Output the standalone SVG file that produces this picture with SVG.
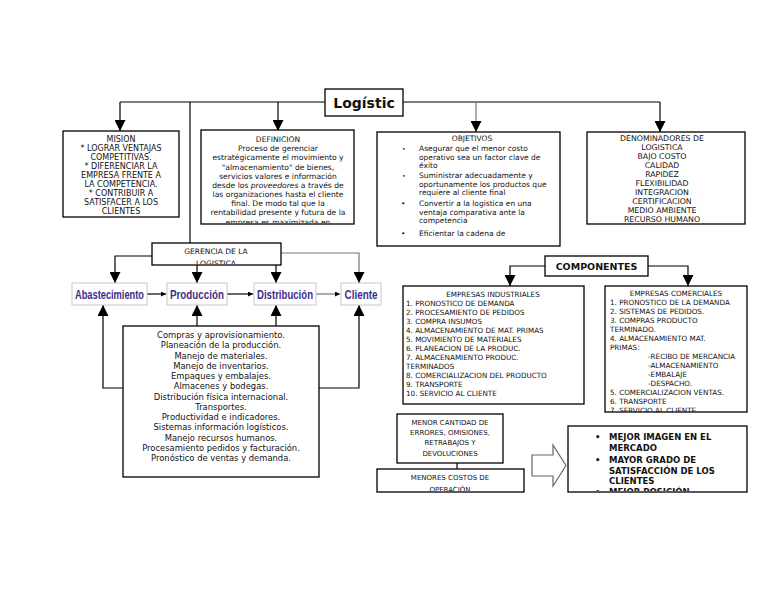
<svg xmlns="http://www.w3.org/2000/svg" width="768" height="594" viewBox="0 0 768 594">
<style>
.bx{fill:#fff;stroke:#000;stroke-width:1.3}
.rb{fill:#fff;stroke:#c8c8d0;stroke-width:1}
.ln{fill:none;stroke:#000;stroke-width:1.2}
.lg{fill:none;stroke:#777;stroke-width:1.2}
.t{font-family:"DejaVu Sans","Liberation Sans",sans-serif;fill:#111}
.c{text-anchor:middle}
.b{font-weight:bold}
.pu{font-family:"Liberation Sans Narrow","Liberation Sans",sans-serif;font-weight:bold;font-size:12.5px;fill:#3d2d8c;text-anchor:middle}
</style>
<defs>
<marker id="ah" viewBox="0 0 10 10" refX="10" refY="5" markerWidth="11" markerHeight="11" markerUnits="userSpaceOnUse" orient="auto"><path d="M0,0 L10,5 L0,10 z" fill="#000"/></marker>
<marker id="sa" viewBox="0 0 10 10" refX="10" refY="5" markerWidth="5" markerHeight="5" markerUnits="userSpaceOnUse" orient="auto"><path d="M0,0 L10,5 L0,10 z" fill="#000"/></marker>
<clipPath id="cDef"><rect x="201" y="130" width="153" height="93"/></clipPath>
<clipPath id="cDen"><rect x="587" y="132" width="158" height="91"/></clipPath>
<clipPath id="cGer"><rect x="152" y="243" width="129" height="21"/></clipPath>
<clipPath id="cCom"><rect x="605" y="286" width="142" height="126"/></clipPath>
<clipPath id="cMen"><rect x="377" y="469" width="147" height="22"/></clipPath>
<clipPath id="cMej"><rect x="568" y="426" width="179" height="65"/></clipPath>
</defs>

<g id="connectors">
<path class="ln" d="M120,102 H325 M403,102 H660"/>
<path class="ln" d="M120,102 V131" marker-end="url(#ah)"/>
<path class="ln" d="M278,102 V131" marker-end="url(#ah)"/>
<path class="lg" d="M476,102 V132" marker-end="url(#ah)"/>
<path class="ln" d="M660,102 V132" marker-end="url(#ah)"/>
<path class="ln" d="M190,102 V243"/>
<path class="ln" d="M152,256 H115 V283" marker-end="url(#ah)"/>
<path class="ln" d="M197,265 V283" marker-end="url(#ah)"/>
<path class="ln" d="M276,265 V283" marker-end="url(#ah)"/>
<path class="lg" d="M281,253 H359 V283" marker-end="url(#ah)"/>
<path class="ln" d="M147,294 H166" marker-end="url(#sa)"/>
<path class="ln" d="M227,294 H253" marker-end="url(#sa)"/>
<path class="lg" d="M316,294 H340" marker-end="url(#sa)"/>
<path class="ln" d="M197,326 V305" marker-end="url(#ah)"/>
<path class="ln" d="M276,326 V305" marker-end="url(#ah)"/>
<path class="ln" d="M123,388 H103 V305" marker-end="url(#ah)"/>
<path class="ln" d="M319,388 H359 V305" marker-end="url(#ah)"/>
<path class="ln" d="M545,266 H510 V286" marker-end="url(#ah)"/>
<path class="ln" d="M648,266 H688 V286" marker-end="url(#ah)"/>
<path class="ln" d="M457,463 V469"/>
<path d="M532,455 H553 V445 L566,465.5 L553,486 V476 H532 Z" fill="#fff" stroke="#666" stroke-width="1.2"/>
</g>

<g id="logistic">
<rect class="bx" x="325" y="89" width="78" height="27"/>
<text class="t c b" x="364" y="108" font-size="14">Logístic</text>
</g>

<g id="mision">
<rect class="bx" x="63" y="131" width="116" height="86"/>
<g class="t c" font-size="8">
<text x="121" y="142">MISION</text>
<text x="121" y="151">* LOGRAR VENTAJAS</text>
<text x="121" y="160">COMPETITIVAS.</text>
<text x="121" y="169">* DIFERENCIAR LA</text>
<text x="121" y="178">EMPRESA FRENTE A</text>
<text x="121" y="187">LA COMPETENCIA.</text>
<text x="121" y="196">* CONTRIBUIR A</text>
<text x="121" y="205">SATISFACER A LOS</text>
<text x="121" y="214">CLIENTES</text>
</g>
</g>

<g id="definicion">
<rect class="bx" x="201" y="130" width="153" height="94"/>
<g class="t c" font-size="7.6" clip-path="url(#cDef)">
<text x="278" y="142">DEFINICION</text>
<text x="278" y="151">Proceso de gerenciar</text>
<text x="278" y="160">estratégicamente el movimiento y</text>
<text x="278" y="169.5">"almacenamiento" de bienes,</text>
<text x="278" y="179">servicios  valores e información</text>
<text x="278" y="188">desde los <tspan font-style="italic">proveedores</tspan> a través de</text>
<text x="278" y="197">las organizaciones  hasta el cliente</text>
<text x="278" y="206">final. De modo tal que la</text>
<text x="278" y="215">rentabilidad presente y futura de la</text>
<text x="278" y="225">empresa es maximizada en</text>
</g>
</g>

<g id="objetivos">
<rect class="bx" x="377" y="132" width="183" height="114"/>
<g class="t" font-size="7.5">
<text class="c" x="472" y="141">OBJETIVOS</text>
<text x="402" y="151" font-size="6">•</text>
<text x="419" y="151">Asegurar que el  menor costo</text>
<text x="419" y="159.5">operativo sea un factor clave de</text>
<text x="419" y="168">éxito</text>
<text x="402" y="178" font-size="6">•</text>
<text x="419" y="178">Suministrar adecuadamente y</text>
<text x="419" y="186.5">oportunamente los productos  que</text>
<text x="419" y="195">requiere al cliente final</text>
<text x="401" y="206">•</text>
<text x="419" y="206">Convertir a la logistica en una</text>
<text x="419" y="214.5">ventaja comparativa  ante la</text>
<text x="419" y="223">competencia</text>
<text x="401" y="236">•</text>
<text x="419" y="236">Eficientar la cadena de</text>
</g>
</g>

<g id="denominadores">
<rect class="bx" x="587" y="132" width="158" height="92"/>
<g class="t c" font-size="7.8" clip-path="url(#cDen)">
<text x="662" y="141">DENOMINADORES DE</text>
<text x="662" y="150">LOGISTICA</text>
<text x="662" y="159">BAJO  COSTO</text>
<text x="662" y="168">CALIDAD</text>
<text x="662" y="177">RAPIDEZ</text>
<text x="662" y="186">FLEXIBILIDAD</text>
<text x="662" y="195">INTEGRACION</text>
<text x="662" y="204">CERTIFICACION</text>
<text x="662" y="213">MEDIO AMBIENTE</text>
<text x="662" y="222">RECURSO HUMANO</text>
</g>
</g>

<g id="gerencia">
<rect class="bx" x="152" y="243" width="129" height="22"/>
<g class="t c" font-size="7.5" clip-path="url(#cGer)">
<text x="216" y="254">GERENCIA DE LA</text>
<text x="216" y="266">LOGISTICA</text>
</g>
</g>

<g id="abastecimiento">
<rect class="rb" x="72" y="283" width="75" height="22"/>
<text class="pu" x="109.5" y="298.5" textLength="69" lengthAdjust="spacingAndGlyphs">Abastecimiento</text>
</g>
<g id="produccion">
<rect class="rb" x="167" y="283" width="60" height="22"/>
<text class="pu" x="197" y="298.5" textLength="54" lengthAdjust="spacingAndGlyphs">Producción</text>
</g>
<g id="distribucion">
<rect class="rb" x="254" y="283" width="62" height="22"/>
<text class="pu" x="285" y="298.5" textLength="56" lengthAdjust="spacingAndGlyphs">Distribución</text>
</g>
<g id="cliente">
<rect class="rb" x="341" y="283" width="40" height="22"/>
<text class="pu" x="361" y="298.5" textLength="33" lengthAdjust="spacingAndGlyphs">Cliente</text>
</g>

<g id="actividades">
<rect class="bx" x="123" y="326" width="196" height="151"/>
<g class="t c" font-size="8.4">
<text x="221" y="338">Compras y aprovisionamiento.</text>
<text x="221" y="348.3">Planeación de la producción.</text>
<text x="221" y="358.5">Manejo de materiales.</text>
<text x="221" y="368.8">Manejo de inventarios.</text>
<text x="221" y="379">Empaques y embalajes.</text>
<text x="221" y="389.3">Almacenes y bodegas.</text>
<text x="221" y="399.5">Distribución física internacional.</text>
<text x="221" y="409.8">Transportes.</text>
<text x="221" y="420">Productividad e indicadores.</text>
<text x="221" y="430.3">Sistemas información logísticos.</text>
<text x="221" y="440.5">Manejo recursos humanos.</text>
<text x="221" y="450.8">Procesamiento pedidos  y facturación.</text>
<text x="221" y="461">Pronóstico de ventas y demanda.</text>
</g>
</g>

<g id="componentes">
<rect class="bx" x="545" y="256" width="103" height="20"/>
<text class="t c b" x="596.5" y="269.5" font-size="9.5">COMPONENTES</text>
</g>

<g id="industriales">
<rect class="bx" x="403" y="286" width="181" height="118"/>
<g class="t" font-size="7.2">
<text class="c" x="493" y="296.5">EMPRESAS INDUSTRIALES</text>
<text x="406" y="305.5">1. PRONOSTICO DE DEMANDA</text>
<text x="406" y="314.5">2. PROCESAMIENTO DE PEDIDOS</text>
<text x="406" y="323.5">3. COMPRA INSUMOS</text>
<text x="406" y="332.5">4. ALMACENAMIENTO DE MAT. PRIMAS</text>
<text x="406" y="341.5">5. MOVIMIENTO DE MATERIALES</text>
<text x="406" y="350.5">6. PLANEACION DE LA PRODUC.</text>
<text x="406" y="359.5">7. ALMACENAMIENTO PRODUC.</text>
<text x="406" y="368.5">TERMINADOS</text>
<text x="406" y="377.5">8. COMERCIALIZACION DEL PRODUCTO</text>
<text x="406" y="386.5">9. TRANSPORTE</text>
<text x="406" y="395.5">10. SERVICIO AL CLIENTE</text>
</g>
</g>

<g id="comerciales">
<rect class="bx" x="605" y="286" width="142" height="126"/>
<g class="t" font-size="7.2" clip-path="url(#cCom)">
<text class="c" x="676" y="296">EMPRESAS  COMERCIALES</text>
<text x="610" y="305">1. PRONOSTICO DE LA DEMANDA</text>
<text x="610" y="314">2. SISTEMAS DE PEDIDOS.</text>
<text x="610" y="323">3. COMPRAS PRODUCTO</text>
<text x="610" y="332">TERMINADO.</text>
<text x="610" y="341">4. ALMACENAMIENTO MAT.</text>
<text x="610" y="349.5">PRIMAS:</text>
<text x="648" y="358.5">-RECIBO DE MERCANCIA</text>
<text x="648" y="367.5">-ALMACENAMIENTO</text>
<text x="648" y="376.5">-EMBALAJE</text>
<text x="648" y="385.5">-DESPACHO.</text>
<text x="610" y="395">5. COMERCIALIZACION VENTAS.</text>
<text x="610" y="404">6.   TRANSPORTE</text>
<text x="610" y="413">7.   SERVICIO AL CLIENTE</text>
</g>
</g>

<g id="menor-cantidad">
<rect class="bx" x="397" y="414" width="106" height="49"/>
<g class="t c" font-size="7">
<text x="450" y="425">MENOR CANTIDAD DE</text>
<text x="450" y="435">ERRORES, OMISIONES,</text>
<text x="450" y="445">RETRABAJOS Y</text>
<text x="450" y="456">DEVOLUCIONES</text>
</g>
</g>

<g id="menores-costos">
<rect class="bx" x="377" y="469" width="147" height="23"/>
<g class="t c" font-size="7" clip-path="url(#cMen)">
<text x="450" y="480">MENORES COSTOS DE</text>
<text x="450" y="492">OPERACIÓN</text>
</g>
</g>

<g id="mejor">
<rect class="bx" x="568" y="426" width="179" height="66" stroke-width="1.6"/>
<g class="t b" font-size="8.5" clip-path="url(#cMej)">
<text x="595" y="440">•</text>
<text x="609" y="440">MEJOR IMAGEN EN EL</text>
<text x="609" y="451">MERCADO</text>
<text x="595" y="463">•</text>
<text x="609" y="463">MAYOR GRADO DE</text>
<text x="609" y="473.5">SATISFACCIÓN DE LOS</text>
<text x="609" y="484">CLIENTES</text>
<text x="595" y="495">•</text>
<text x="609" y="495">MEJOR POSICIÓN</text>
</g>
</g>
</svg>
